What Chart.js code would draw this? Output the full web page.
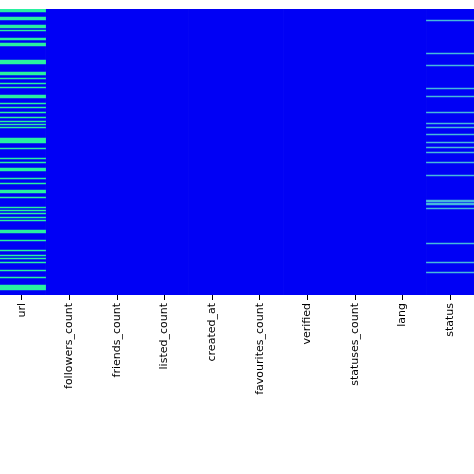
<!DOCTYPE html>
<html><head><script src="https://cdn.jsdelivr.net/npm/chart.js@4"></script>
<style>body{margin:0;background:#fff;overflow:hidden}#w{position:absolute;left:-2px;top:0;width:476px;height:474px}</style></head>
<body><div id="w"><canvas id="c"></canvas></div>
<script>
const columns=['url','followers_count','friends_count','listed_count','created_at','favourites_count','verified','statuses_count','lang','status'];
const totalRows=286;
// missing-value row ranges [start,end] (row index from top)
const urlMissing=[[0,3],[8,11],[16,19],[21,22],[29,31],[34,37],[51,55],[63,66],[69,70],[74,75],[78,79],[86,89],[94,95],[98,99],[103,104],[108,109],[112,113],[115,116],[118,119],[129,134],[139,140],[149,150],[153,154],[159,162],[169,170],[174,175],[181,184],[188,189],[198,199],[201,202],[204,205],[208,209],[211,212],[221,224],[231,232],[241,242],[246,247],[249,250],[253,254],[261,262],[268,269],[276,281]];
const statusMissing=[[11,12],[44,45],[56,57],[79,80],[87,88],[103,104],[114,115],[118,119],[125,126],[133,134],[138,139],[143,144],[153,154],[166,167],[191,193],[194,196],[199,200],[234,235],[253,254],[263,264]];
const toData=(col,r)=>r.map(([a,b])=>({x:col,y:[a,b]}));
new Chart(document.getElementById('c'),{type:'bar',
data:{labels:columns,datasets:[
{data:columns.map(c=>({x:c,y:[0,totalRows]})),backgroundColor:'#0000f5',barPercentage:1,categoryPercentage:1,grouped:false,order:3},
{data:toData('url',urlMissing),backgroundColor:'#28f0a0',barPercentage:1,categoryPercentage:1,grouped:false,order:1},
{data:toData('status',statusMissing),backgroundColor:'#45b8dc',barPercentage:1,categoryPercentage:1,grouped:false,order:1}
]},
options:{responsive:true,maintainAspectRatio:false,animation:false,
layout:{padding:{top:9,left:0,right:0,bottom:0}},
plugins:{legend:{display:false},tooltip:{enabled:false}},
scales:{
x:{offset:true,grid:{display:true,offset:false,drawOnChartArea:false,tickLength:5,color:'#000'},border:{display:false},
ticks:{color:'#000',font:{family:'DejaVu Sans',size:11},maxRotation:90,minRotation:90,padding:3},
afterFit(s){s.height=179;}},
y:{display:false,reverse:true,min:0,max:totalRows}
}}});
</script></body></html>
